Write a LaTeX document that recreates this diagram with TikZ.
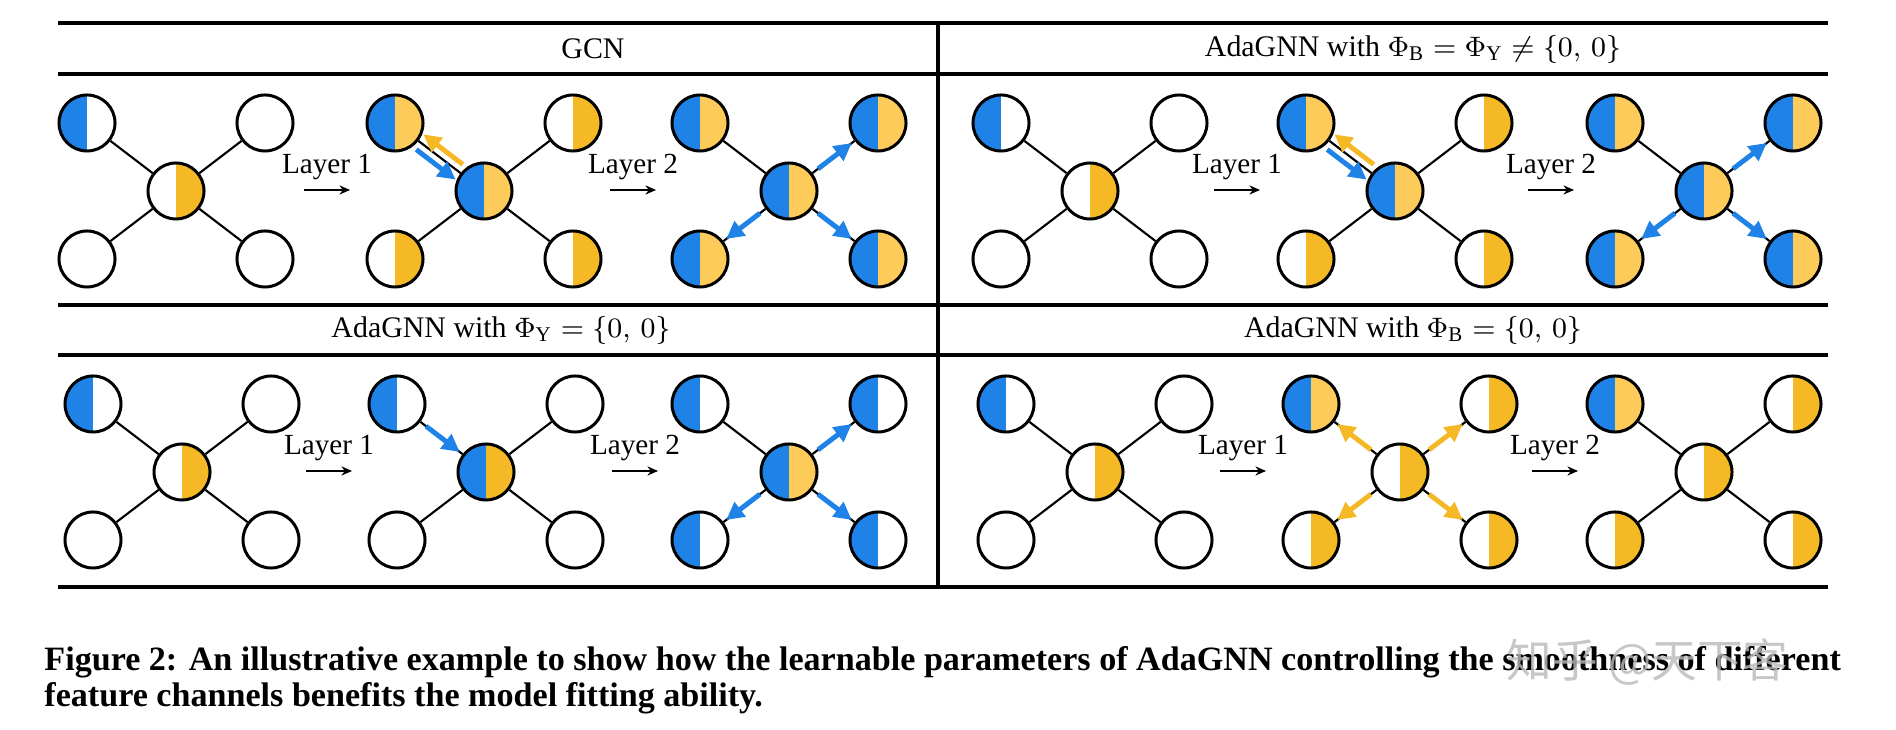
\documentclass[tikz,border=0pt]{standalone}
\usepackage{fontspec}
\setmainfont{Liberation Serif}
\newfontfamily\cjk{Noto Sans CJK SC}
\usetikzlibrary{arrows.meta}
\definecolor{bl}{HTML}{1E82E6}
\definecolor{or}{HTML}{F6B926}
\definecolor{orl}{HTML}{FCCB59}
\tikzset{
  gn/.style={circle,draw,line width=0.85pt,minimum size=0.56cm,inner sep=0pt},
  edge/.style={line width=0.6pt},
  rule/.style={line width=1.1pt},
  barrow/.style={draw=bl,line width=1.4pt,-{Triangle[length=5pt,width=5pt]},shorten <=2pt,shorten >=1pt},
  oarrow/.style={draw=or,line width=1.4pt,-{Triangle[length=5pt,width=5pt]},shorten <=2pt,shorten >=1pt},
  lay/.style={font=\fontsize{8.3}{9}\selectfont},
  ttl/.style={font=\fontsize{8.5}{9}\selectfont},
  larrow/.style={line width=0.45pt,-{Stealth[length=3pt,width=2.6pt]}}
}
\newcommand\nd[5]{%
  \fill[#4] (#2,#3) ++(0,0.28cm) arc[start angle=90,end angle=270,radius=0.28cm] -- cycle;
  \fill[#5] (#2,#3) ++(0,0.28cm) arc[start angle=90,end angle=-90,radius=0.28cm] -- cycle;
  \node[gn] (#1) at (#2,#3) {};}
\newcommand\edg[1]{\draw[edge] (#1c)--(#1a) (#1c)--(#1b) (#1c)--(#1d) (#1c)--(#1e);}
\newcommand\grp[9]{%
  \nd{#1c}{#2}{#3}{#4}{#5}
  \nd{#1a}{#2-89}{#3+68}{#6}{#7}
  \nd{#1b}{#2+89}{#3+68}{#8}{#9}
  \nd{#1d}{#2-89}{#3-68}{#8}{#9}
  \nd{#1e}{#2+89}{#3-68}{#8}{#9}
  \edg{#1}}
\newcommand\layer[4]{%
  \node[lay] (#1) at (#2,#3) {#4};
  \coordinate (#1s) at (#2-23,#3-23); \coordinate (#1t) at (#2+23,#3-23);
  \draw[larrow] (#1s) -- (#1t);}
\begin{document}
\begin{tikzpicture}[x=0.01cm,y=0.01cm]
\useasboundingbox (0,0) rectangle (1896,730);
\coordinate (r1l) at (58,707); \coordinate (r1r) at (1828,707);
\coordinate (r2l) at (58,656); \coordinate (r2r) at (1828,656);
\coordinate (r3l) at (58,425); \coordinate (r3r) at (1828,425);
\coordinate (r4l) at (58,375); \coordinate (r4r) at (1828,375);
\coordinate (r5l) at (58,143); \coordinate (r5r) at (1828,143);
\coordinate (vt) at (938,707); \coordinate (vb) at (938,143);
\draw[rule] (r1l)--(r1r) (r2l)--(r2r) (r3l)--(r3r) (r4l)--(r4r) (r5l)--(r5r);
\draw[rule] (vt)--(vb);
\node[ttl] (t1) at (593,681) {GCN};
\node[ttl] (t2) at (1413,681) {AdaGNN with $\Phi_{\mathrm{B}} = \Phi_{\mathrm{Y}} \neq \{0,\,0\}$};
\node[ttl] (t3) at (501,400) {AdaGNN with $\Phi_{\mathrm{Y}} = \{0,\,0\}$};
\node[ttl] (t4) at (1413,400) {AdaGNN with $\Phi_{\mathrm{B}} = \{0,\,0\}$};
% ---- top-left GCN
\grp{a}{176}{539}{white}{or}{bl}{white}{white}{white}
\grp{b}{484}{539}{bl}{orl}{bl}{orl}{white}{or}
\grp{c}{789}{539}{bl}{orl}{bl}{orl}{bl}{orl}
\draw[oarrow,transform canvas={shift={(0.05cm,0.065cm)}},shorten <=1pt,shorten >=0pt] (bc)--(ba);
\draw[barrow,transform canvas={shift={(-0.05cm,-0.065cm)}},shorten <=1pt,shorten >=0pt] (ba)--(bc);
\draw[barrow] (cc)--(cb); \draw[barrow] (cc)--(cd); \draw[barrow] (cc)--(ce);
\layer{l1}{327}{563}{Layer 1}
\layer{l2}{633}{563}{Layer 2}
% ---- top-right
\grp{d}{1090}{539}{white}{or}{bl}{white}{white}{white}
\grp{e}{1395}{539}{bl}{orl}{bl}{orl}{white}{or}
\grp{f}{1704}{539}{bl}{orl}{bl}{orl}{bl}{orl}
\draw[oarrow,transform canvas={shift={(0.05cm,0.065cm)}},shorten <=1pt,shorten >=0pt] (ec)--(ea);
\draw[barrow,transform canvas={shift={(-0.05cm,-0.065cm)}},shorten <=1pt,shorten >=0pt] (ea)--(ec);
\draw[barrow] (fc)--(fb); \draw[barrow] (fc)--(fd); \draw[barrow] (fc)--(fe);
\layer{l3}{1237}{563}{Layer 1}
\layer{l4}{1551}{563}{Layer 2}
% ---- bottom-left
\grp{g}{182}{258}{white}{or}{bl}{white}{white}{white}
\grp{h}{486}{258}{bl}{or}{bl}{white}{white}{white}
\grp{i}{789}{258}{bl}{orl}{bl}{white}{bl}{white}
\draw[barrow] (ha)--(hc);
\draw[barrow] (ic)--(ib); \draw[barrow] (ic)--(id); \draw[barrow] (ic)--(ie);
\layer{l5}{329}{282}{Layer 1}
\layer{l6}{635}{282}{Layer 2}
% ---- bottom-right
\grp{j}{1095}{258}{white}{or}{bl}{white}{white}{white}
\grp{k}{1400}{258}{white}{or}{bl}{orl}{white}{or}
\grp{m}{1704}{258}{white}{or}{bl}{orl}{white}{or}
\draw[oarrow] (kc)--(ka); \draw[oarrow] (kc)--(kb); \draw[oarrow] (kc)--(kd); \draw[oarrow] (kc)--(ke);
\layer{l7}{1243}{282}{Layer 1}
\layer{l8}{1555}{282}{Layer 2}
% caption
\node[anchor=west,font=\fontsize{9.7}{11}\selectfont\bfseries] (cap1) at (32,68) {Figure 2: An illustrative example to show how the learnable parameters of AdaGNN controlling the smoothness of different};
\node[anchor=west,font=\fontsize{9.7}{11}\selectfont\bfseries] (cap2) at (32,32) {feature channels benefits the model fitting ability.};
\node[anchor=west,font=\fontsize{13}{14}\cjk,text=gray!55,opacity=0.8] (wm) at (1494,68) {知乎 @天下客};
\end{tikzpicture}
\end{document}
